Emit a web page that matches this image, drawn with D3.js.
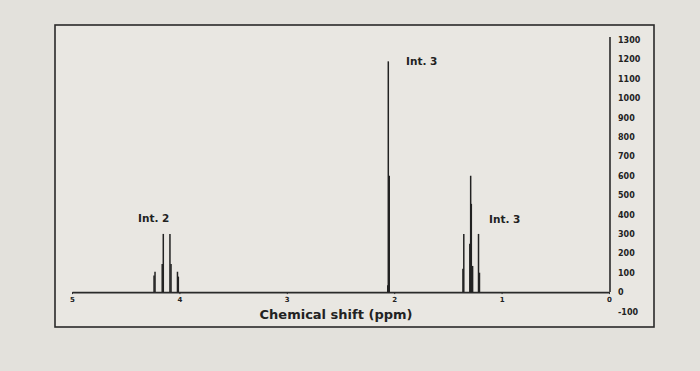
<!DOCTYPE html>
<html>
<head>
<meta charset="utf-8">
<script src="https://cdn.jsdelivr.net/npm/d3@7"></script>
<style>
  body { margin: 0; background: #e3e1dc; }
  svg { display: block; }
  text { font-family: "DejaVu Sans", Verdana, sans-serif; font-weight: bold; fill: #222; }
</style>
</head>
<body>
<div id="chart"></div>
<script>
// stick spectrum: chemical shift (ppm) and intensity
const peakShift  = [4.236, 4.227, 4.160, 4.150, 4.088, 4.078, 4.018, 4.010,
                    2.060, 2.055, 2.046,
                    1.360, 1.352, 1.296, 1.288, 1.282, 1.270, 1.215, 1.206];
const peakHeight = [85, 105, 145, 300, 300, 145, 105, 80,
                    35, 1190, 600,
                    120, 300, 250, 600, 455, 135, 300, 100];

const xTicks = [5, 4, 3, 2, 1, 0];
const yTicks = [-100, 0, 100, 200, 300, 400, 500, 600, 700, 800, 900, 1000, 1100, 1200, 1300];

const labels = [
    { text: "Int. 2", ppm: 4.385, val: 362 },
    { text: "Int. 3", ppm: 1.89, val: 1170 },
    { text: "Int. 3", ppm: 1.117, val: 354 }
];

const width = 700, height = 371;

const svg = d3.select("#chart").append("svg")
    .attr("width", width)
    .attr("height", height);

// page frame
svg.append("rect")
    .attr("x", 55).attr("y", 25)
    .attr("width", 599).attr("height", 302)
    .attr("fill", "#e9e7e2")
    .attr("stroke", "#2a2a2a")
    .attr("stroke-width", 1.6);

const x = d3.scaleLinear().domain([5, 0]).range([72, 609]);
const y = d3.scaleLinear().domain([-100, 1300]).range([311.5, 40]);

// x axis
const xAxis = svg.append("g")
    .attr("transform", `translate(0,${y(0)})`)
    .call(d3.axisBottom(x).tickValues(xTicks).tickFormat(d => String(d))
        .tickSize(2).tickSizeOuter(0).tickPadding(3));
xAxis.select(".domain").attr("stroke", "#2a2a2a").attr("stroke-width", 1.6);
xAxis.selectAll(".tick line").attr("stroke", "#2a2a2a");
xAxis.selectAll("text").style("font-size", "7px").attr("fill", "#222");

// y axis (on the right, line only from 0 to top)
const yAxis = svg.append("g")
    .attr("transform", `translate(610,0)`)
    .call(d3.axisRight(y).tickValues(yTicks).tickFormat(d => String(d))
        .tickSize(0).tickPadding(8));
yAxis.select(".domain").remove();
yAxis.selectAll("text").style("font-size", "8px").attr("fill", "#222");
svg.append("line")
    .attr("x1", 610).attr("x2", 610)
    .attr("y1", y(0)).attr("y2", y(1300) - 3)
    .attr("stroke", "#2a2a2a")
    .attr("stroke-width", 1.6);

// peaks
svg.append("g").selectAll("line")
    .data(peakShift)
    .enter()
    .append("line")
    .attr("x1", d => x(d)).attr("x2", d => x(d))
    .attr("y1", y(0))
    .attr("y2", (d, i) => y(peakHeight[i]))
    .attr("stroke", "#222")
    .attr("stroke-width", 1.5);

// integration labels
svg.append("g").selectAll("text")
    .data(labels)
    .enter()
    .append("text")
    .attr("x", d => x(d.ppm))
    .attr("y", d => y(d.val))
    .style("font-size", "10.5px")
    .text(d => d.text);

// axis title
svg.append("text")
    .attr("x", 336)
    .attr("y", 319)
    .attr("text-anchor", "middle")
    .style("font-size", "13px")
    .text("Chemical shift (ppm)");
</script>
</body>
</html>
